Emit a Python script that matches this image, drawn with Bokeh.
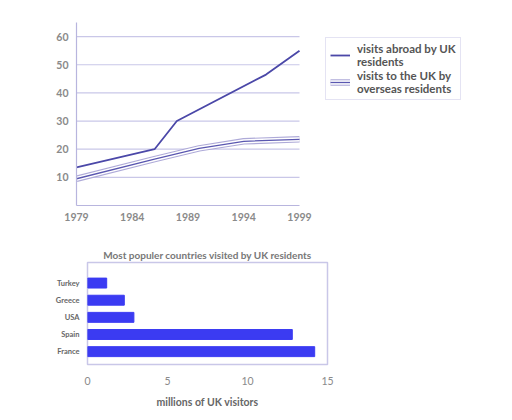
from bokeh.plotting import figure
from bokeh.layouts import column, row
from bokeh.models import Legend, LegendItem, FixedTicker, Range1d
from bokeh.embed import file_html
from bokeh.resources import INLINE

# line chart data (millions of visits)
abroad_years = [1979, 1986, 1988, 1996, 1999]
abroad_visits = [13.5, 20, 30, 46.5, 55]
overseas_years = [1979, 1986, 1990, 1994, 1999]
overseas_visits = [9.5, 16.5, 20.3, 22.8, 23.5]
year_ticks = [1979, 1984, 1989, 1994, 1999]
value_ticks = [10, 20, 30, 40, 50, 60]

# bar chart data
countries = ["France", "Spain", "USA", "Greece", "Turkey"]
uk_visitors = [14.2, 12.8, 2.9, 2.3, 1.2]
visitor_ticks = [0, 5, 10, 15]

FONT = "Lato"
LAV = "#c9c7e8"
GREY = "#8a8a8a"

# top: line chart; the frame is widened so the legend can sit inside it
plot_w = 223          # px covered by the years 1979-1999
frame_w = 394
x_end = year_ticks[0] + (year_ticks[-1] - year_ticks[0]) * frame_w / plot_w
p1 = figure(width=496, height=230, output_backend="svg", toolbar_location=None,
            x_range=Range1d(year_ticks[0], x_end), y_range=Range1d(0, 65),
            min_border_left=76, min_border_right=496 - 76 - frame_w,
            min_border_top=22, min_border_bottom=25)
p1.outline_line_color = None
p1.grid.grid_line_color = None
p1.segment(x0=[year_ticks[0]] * len(value_ticks), x1=[year_ticks[-1]] * len(value_ticks),
           y0=value_ticks, y1=value_ticks, line_color=LAV, line_width=1.2, level="underlay")
p1.xaxis.ticker = FixedTicker(ticks=year_ticks)
p1.yaxis.ticker = FixedTicker(ticks=value_ticks)
p1.xaxis.bounds = (year_ticks[0], year_ticks[-1])
for ax in (p1.xaxis, p1.yaxis):
    ax.axis_line_color = "#b8b5de"
    ax.axis_line_width = 1.2
    ax.major_tick_line_color = None
    ax.minor_tick_line_color = None
    ax.major_label_text_font = FONT
    ax.major_label_text_font_style = "bold"
    ax.major_label_text_color = GREY
    ax.major_label_text_font_size = "10.5px"
p1.xaxis.major_label_standoff = 1
p1.yaxis.major_label_standoff = 2

r_abroad = p1.line(abroad_years, abroad_visits, line_color="#4b48a8", line_width=1.8)
r_o1 = p1.line(overseas_years, overseas_visits, line_color="#aeaad8", line_width=6.5)
r_o2 = p1.line(overseas_years, overseas_visits, line_color="white", line_width=4.3)
r_o3 = p1.line(overseas_years, overseas_visits, line_color="#5a57b0", line_width=1.3)

legend = Legend(items=[
    LegendItem(label="visits abroad by UK\nresidents", renderers=[r_abroad]),
    LegendItem(label="visits to the UK by\noverseas residents", renderers=[r_o1, r_o2, r_o3]),
], location=(249, 105), margin=0)
legend.label_text_font = FONT
legend.label_text_font_style = "bold"
legend.label_text_font_size = "11.5px"
legend.label_text_color = "#555555"
legend.label_text_line_height = 0.9
legend.border_line_color = LAV
legend.border_line_width = 1.2
legend.glyph_width = 20
legend.glyph_height = 10
legend.spacing = 1
legend.padding = 4
legend.label_standoff = 7
p1.add_layout(legend, "center")

# bottom: bar chart
ypos = list(range(len(countries)))
p2 = figure(width=496, height=180, output_backend="svg", toolbar_location=None,
            x_range=Range1d(0, 15), y_range=Range1d(-0.75, 5.2),
            min_border_left=87, min_border_right=169, min_border_top=32,
            min_border_bottom=43,
            title="Most populer countries visited by UK residents",
            x_axis_label="millions of UK visitors")
p2.hbar(y=ypos, right=uk_visitors, left=0, height=0.58, color="#3b3bf2")
p2.outline_line_color = LAV
p2.outline_line_width = 1.5
p2.grid.grid_line_color = None
p2.title.align = "center"
p2.title.text_font = FONT
p2.title.text_font_style = "bold"
p2.title.text_font_size = "10px"
p2.title.text_color = "#777777"
p2.title.standoff = 4
p2.xaxis.ticker = FixedTicker(ticks=visitor_ticks)
p2.yaxis.ticker = FixedTicker(ticks=ypos)
p2.yaxis.major_label_overrides = {i: c for i, c in zip(ypos, countries)}
for ax in (p2.xaxis, p2.yaxis):
    ax.axis_line_color = None
    ax.major_tick_line_color = None
    ax.minor_tick_line_color = None
    ax.major_label_text_font = FONT
p2.xaxis.major_label_text_color = GREY
p2.xaxis.major_label_text_font_size = "10.5px"
p2.xaxis.major_label_standoff = 6
p2.yaxis.major_label_text_color = "#666666"
p2.yaxis.major_label_text_font_size = "7.5px"
p2.yaxis.major_label_text_font_style = "bold"
p2.yaxis.major_label_standoff = 2
p2.xaxis.axis_label_text_font = FONT
p2.xaxis.axis_label_text_font_style = "bold"
p2.xaxis.axis_label_text_font_size = "10.5px"
p2.xaxis.axis_label_text_color = "#666666"
p2.xaxis.axis_label_standoff = 8

layout = column(row(p1), row(p2), spacing=0)
open("out.html", "w").write(file_html(layout, INLINE))
